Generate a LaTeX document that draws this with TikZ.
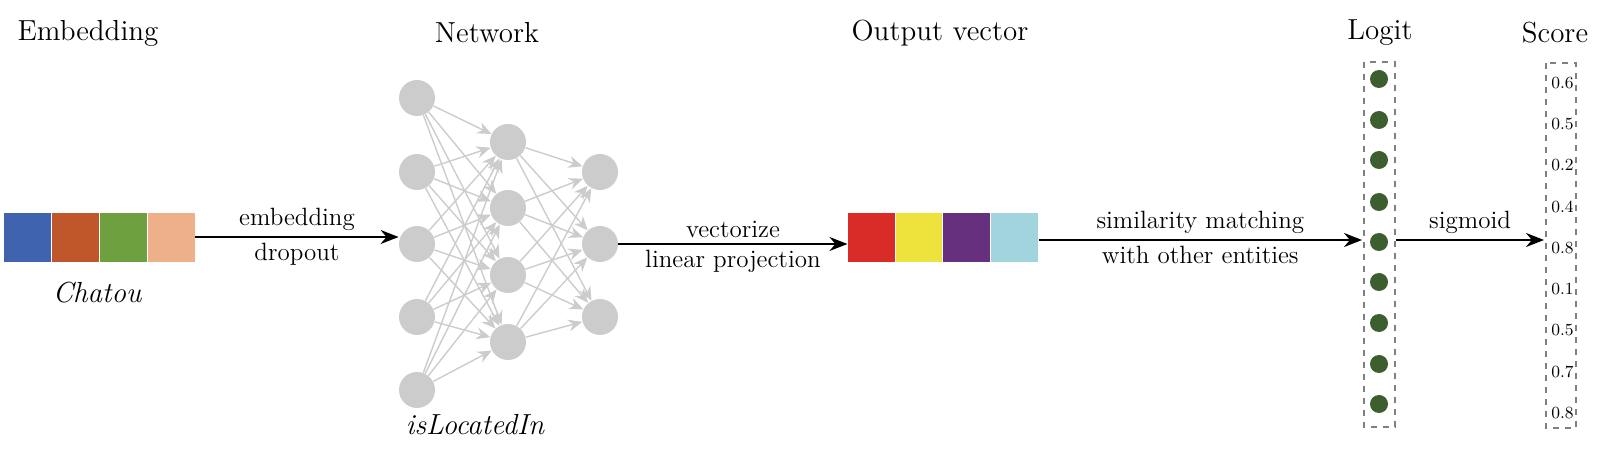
\documentclass[tikz,border=0pt]{standalone}
\usetikzlibrary{arrows.meta}
\definecolor{eb}{HTML}{3F63AE}\definecolor{eo}{HTML}{C0572A}\definecolor{eg}{HTML}{6FA040}\definecolor{ep}{HTML}{EDB08A}
\definecolor{orr}{HTML}{D92B27}\definecolor{oy}{HTML}{EDE33C}\definecolor{opu}{HTML}{66307F}\definecolor{olb}{HTML}{A2D4DE}
\definecolor{neur}{HTML}{CCCCCC}\definecolor{dotg}{HTML}{3D5E2E}
\begin{document}
\begin{tikzpicture}[x=0.5pt,y=-0.5pt,
 title/.style={font=\fontsize{14.5}{16}\selectfont},
 lab/.style={font=\fontsize{12.5}{14}\selectfont,inner sep=2.5pt},
 neuron/.style={circle,fill=neur,minimum size=18pt,inner sep=0},
 conn/.style={draw=neur,line width=0.7pt,-{Stealth[length=7pt,width=6pt]}},
 arr/.style={draw=black,line width=0.9pt,-{Stealth[length=9pt,width=7pt]}},
 cell/.style={minimum width=24pt,minimum height=25pt,inner sep=0,draw=white,line width=0.3pt},
 gdot/.style={circle,fill=dotg,minimum size=9pt,inner sep=0},
 dbox/.style={draw=gray,dashed,line width=0.6pt},
 score/.style={font=\fontsize{8.5}{9}\selectfont,anchor=east,inner sep=0}]
\useasboundingbox (0,0) rectangle (1620,453);
% titles
\node[title] (t1) at (88,33) {Embedding};
\node[title] (t2) at (487,33) {Network};
\node[title] (t3) at (940,33) {Output vector};
\node[title] (t4) at (1380,33) {Logit};
\node[title] (t5) at (1555,33) {Score};
% embedding
\foreach \c [count=\i] in {eb,eo,eg,ep}
  \node[cell,fill=\c] (e\i) at ({3+48*\i-24},237) {};
\node[font=\fontsize{14.5}{16}\selectfont\itshape] (chat) at (97,293) {Chatou};
% network
\foreach \y [count=\i] in {98,172,244,317,390} \node[neuron] (a\i) at (417,\y) {};
\foreach \y [count=\i] in {142,208,275,342} \node[neuron] (b\i) at (508,\y) {};
\foreach \y [count=\i] in {172,244,317} \node[neuron] (c\i) at (600,\y) {};
\foreach \i in {1,...,5} \foreach \j in {1,...,4} \draw[conn] (a\i) -- (b\j);
\foreach \i in {1,...,4} \foreach \j in {1,...,3} \draw[conn] (b\i) -- (c\j);
\node[font=\fontsize{14.5}{16}\selectfont\itshape] (isl) at (475,425) {isLocatedIn};
% output vector
\foreach \c [count=\i] in {orr,oy,opu,olb}
  \node[cell,fill=\c] (o\i) at ({848+47.5*\i-23.75},237) {};
% logit
\draw[dbox] (1364,62) rectangle (1395,427);
\foreach \y [count=\i] in {79,120,160,202,242,282,323,364,404} \node[gdot] (d\i) at (1379,\y) {};
\coordinate (lin) at (1362,240);
\coordinate (lout) at (1396,240);
% score
\draw[dbox] (1546,63) rectangle (1576,428);
\coordinate (sin) at (1544,240);
\foreach \v/\y [count=\i] in {0.6/83,0.5/124,0.2/165,0.4/207,0.8/248,0.1/289,0.5/330,0.7/372,0.8/413}
  \node[score] (s\i) at (1574,\y) {\v};
% arrows
\draw[arr] (e4.east) -- (a3.west |- e4.east) node[midway,lab,above] {embedding} node[midway,lab,below] {dropout};
\draw[arr] (c2.east) -- (o1.west |- c2.east) node[midway,lab,above] {vectorize} node[midway,lab,below] {linear projection};
\draw[arr] (o4.east |- lin) -- (lin) node[midway,lab,above] {similarity matching} node[midway,lab,below] {with other entities};
\draw[arr] (lout) -- (sin) node[midway,lab,above] {sigmoid};
\end{tikzpicture}
\end{document}
